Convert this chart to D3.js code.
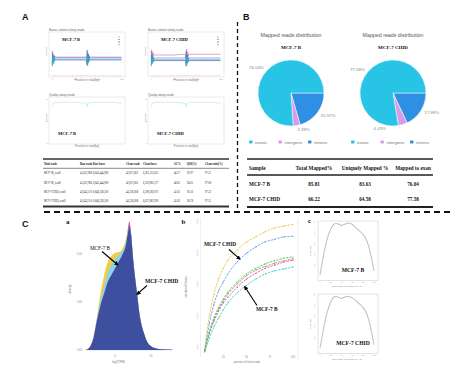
<!DOCTYPE html>
<html>
<head>
<meta charset="utf-8">
<script src="https://cdn.jsdelivr.net/npm/d3@7"></script>
<style>
  body { margin: 0; background: #fff; }
  svg { display: block; }
</style>
</head>
<body>
<svg id="fig" width="474" height="370"></svg>
<script>
// ---------- datos ----------
// A: contenido de bases a lo largo de las lecturas (read1 + read2)
const basePos = [1, 3, 5, 7, 9, 11, 14, 20, 50, 100, 140, 148, 151, 153, 155, 157, 159, 161, 164, 170, 200, 250, 298];
const baseA_B = [18, 34, 22, 31, 24, 29, 27, 27, 27, 27, 27, 27, 17, 35, 22, 31, 25, 28, 27, 27, 27, 27, 27];
const baseT_B = [36, 20, 30, 23, 28, 25, 26, 26, 26, 26, 26, 26, 37, 19, 31, 22, 28, 25, 26, 26, 26, 26, 26];
const baseG_B = [14, 30, 18, 28, 21, 25, 23, 23, 23, 23, 23, 23, 15, 31, 19, 27, 21, 24, 23, 23, 23, 23, 23];
const baseC_B = [32, 16, 30, 18, 27, 21, 24, 24, 24, 24, 24, 24, 33, 15, 28, 20, 26, 22, 24, 24, 24, 24, 24];
const baseA_C = [20, 37, 24, 34, 27, 32, 30, 30, 30, 30, 31, 31, 19, 38, 25, 34, 28, 32, 31, 31, 31, 31, 31];
const baseT_C = [36, 19, 30, 22, 27, 24, 24, 24, 24, 24, 24, 24, 36, 18, 30, 21, 27, 23, 24, 24, 24, 24, 24];
const baseG_C = [14, 29, 18, 27, 20, 24, 22, 22, 22, 22, 22, 22, 14, 30, 18, 26, 20, 23, 22, 22, 22, 22, 22];
const baseC_C = [31, 16, 29, 18, 26, 21, 26, 26, 26, 26, 26, 26, 32, 15, 27, 19, 25, 22, 26, 26, 26, 26, 26];
const qualPos = [1, 5, 20, 60, 100, 148, 151, 155, 170, 220, 260, 298];
const qualB = [33, 36, 37, 37, 37, 36, 33, 36, 37, 37, 37, 36];
const qualC = [33, 36, 37, 37, 37, 36, 33, 36, 37, 37, 37, 36];

// A: tabla de calidad
const qcHeader = ["Total reads", "Raw reads", "Raw bases", "Clean reads", "Clean bases", "GC%", "Q30(%)", "Clean ratio(%)"];
const qcRows = [
  ["MCF-7B_read1", "45,622,966", "6,843,444,900", "42,875,063", "6,361,125,631", "46.37", "95.97", "97.21"],
  ["MCF-7B_read2", "45,622,966", "6,843,444,900", "42,875,063", "6,359,085,377", "46.65", "94.05", "97.08"],
  ["MCF-7CHID_read1", "45,643,510", "6,846,526,500", "44,358,268", "6,598,583,071", "45.61", "95.56", "97.22"],
  ["MCF-7CHID_read2", "45,643,510", "6,846,526,500", "44,358,268", "6,637,863,930", "45.62", "94.78", "97.21"]
];

// B: distribución de lecturas mapeadas
const regions = ["intronic", "intergenic", "exonic"];
const legendOrder = ["exonic", "intergenic", "intronic"];
const pieB = [20.57, 3.39, 76.04];
const pieCHID = [17.99, 4.43, 77.58];
const mapHeader = ["Sample", "Total Mapped%", "Uniquely Mapped %", "Mapped to exon"];
const mapRows = [
  ["MCF-7 B", "85.81", "83.63", "76.04"],
  ["MCF-7 CHID", "66.22", "64.58", "77.58"]
];

// C-a: densidad de log2(TPM)
const densX = [-8, -7, -6, -5, -4, -3, -2, -1, 0, 1, 2, 3, 3.5, 4, 4.5, 5, 5.5, 6, 7, 8, 9, 10, 11, 12, 14, 16];
const densPink = [0, 0.003, 0.012, 0.031, 0.047, 0.059, 0.071, 0.078, 0.085, 0.092, 0.099, 0.110, 0.124, 0.134, 0.121, 0.097, 0.078, 0.063, 0.033, 0.018, 0.008, 0.004, 0.002, 0.001, 0.0005, 0];
const densYellow = [0, 0.003, 0.014, 0.035, 0.060, 0.078, 0.092, 0.098, 0.101, 0.102, 0.105, 0.115, 0.124, 0.128, 0.118, 0.095, 0.077, 0.062, 0.033, 0.017, 0.008, 0.004, 0.002, 0.001, 0.0005, 0];
const densCyan = [0, 0.003, 0.013, 0.033, 0.053, 0.067, 0.081, 0.089, 0.095, 0.099, 0.103, 0.112, 0.122, 0.129, 0.119, 0.096, 0.078, 0.063, 0.033, 0.018, 0.008, 0.004, 0.002, 0.001, 0.0005, 0];
const densBlue = [0, 0.003, 0.012, 0.031, 0.047, 0.059, 0.071, 0.078, 0.085, 0.092, 0.099, 0.109, 0.120, 0.129, 0.119, 0.096, 0.078, 0.0625, 0.033, 0.018, 0.008, 0.004, 0.002, 0.001, 0.0005, 0];

// C-b: saturación (número de genes vs % de lecturas)
const satX = [5, 10, 15, 20, 25, 30, 40, 50, 60, 70, 80, 90, 100];
const satYellow = [4700, 9900, 13400, 15800, 17500, 18800, 20400, 21700, 22500, 23300, 23900, 24200, 24500];
const satBlue = [4500, 8700, 11800, 13900, 15300, 16600, 18500, 19900, 20900, 21700, 22100, 22500, 22600];
const satGreen = [4400, 7400, 9600, 11300, 12600, 13700, 15300, 16600, 17500, 18200, 18700, 19100, 19300];
const satBrown = [4400, 7200, 9400, 11000, 12300, 13400, 15000, 16300, 17200, 17800, 18300, 18700, 19000];
const satPink = [4400, 7100, 9100, 10700, 12000, 12900, 14500, 15800, 16700, 17500, 18000, 18500, 18800];
const satTeal = [4200, 6400, 8200, 9600, 10900, 12000, 13600, 14800, 15800, 16600, 17100, 17400, 17700];
const satTicks = [5000, 10000, 15000, 20000, 25000];

// C-c: cobertura del cuerpo génico
const covX = [0, 5, 10, 15, 20, 25, 30, 35, 40, 45, 50, 55, 60, 65, 70, 75, 80, 85, 90, 95, 100];
const covB = [0.02, 0.30, 0.57, 0.75, 0.88, 0.96, 0.98, 0.96, 0.93, 0.95, 0.98, 0.98, 0.96, 0.91, 0.86, 0.82, 0.77, 0.70, 0.57, 0.36, 0.09];
const covCHID = [0.02, 0.29, 0.56, 0.75, 0.88, 0.97, 0.98, 0.95, 0.93, 0.96, 0.98, 0.97, 0.95, 0.91, 0.86, 0.82, 0.77, 0.70, 0.56, 0.35, 0.08];

// ---------- dibujo ----------
const svg = d3.select("#fig");
const serif = "'Liberation Serif','Times New Roman',serif";
const sans = "'Liberation Sans',Arial,sans-serif";

function txt(g, x, y, s, size, opts = {}) {
  return g.append("text")
    .attr("x", x).attr("y", y)
    .attr("font-family", opts.family || sans)
    .attr("font-size", size)
    .attr("font-weight", opts.bold ? "bold" : "normal")
    .attr("fill", opts.fill || "#111")
    .attr("text-anchor", opts.anchor || "start")
    .text(s);
}

// etiquetas de panel
txt(svg, 22, 20, "A", 9, { bold: true });
txt(svg, 243, 20, "B", 9, { bold: true });
txt(svg, 22, 227, "C", 9, { bold: true });

// separadores discontinuos
svg.append("line").attr("x1", 237.5).attr("x2", 237.5).attr("y1", 22).attr("y2", 208)
  .attr("stroke", "#111").attr("stroke-width", 1.3).attr("stroke-dasharray", "4,3");
svg.append("line").attr("x1", 44).attr("x2", 454).attr("y1", 212).attr("y2", 212)
  .attr("stroke", "#111").attr("stroke-width", 2).attr("stroke-dasharray", "6,4");

// ---- A: gráficos de contenido de bases y calidad ----
const baseColors = { A: "#e8609a", T: "#4a6fd6", G: "#1f3c88", C: "#35c3cf" };

function basesPlot(x0, label, series) {
  const g = svg.append("g");
  const xs = d3.scaleLinear().domain([0, 300]).range([x0 + 3, x0 + 73]);
  const ys = d3.scaleLinear().domain([0, 60]).range([76, 34]);
  txt(g, x0, 30.5, "Bases content along reads", 3, { fill: "#666" });
  g.append("rect").attr("x", x0).attr("y", 32).attr("width", 76).attr("height", 45)
    .attr("fill", "none").attr("stroke", "#ddd").attr("stroke-width", 0.6);
  const line = d3.line().x((d, i) => xs(basePos[i])).y(d => ys(d));
  Object.entries(series).forEach(([k, vals]) => {
    g.append("path").attr("d", line(vals)).attr("fill", "none")
      .attr("stroke", baseColors[k]).attr("stroke-width", 0.7).attr("opacity", 0.85);
  });
  // contenido N ~0
  g.append("path").attr("d", line(basePos.map(() => 0.5))).attr("fill", "none")
    .attr("stroke", "#f08ab8").attr("stroke-width", 0.5).attr("stroke-dasharray", "1.5,1");
  // mini leyenda
  Object.keys(baseColors).forEach((k, i) => {
    g.append("line").attr("x1", x0 + 69).attr("x2", x0 + 71).attr("y1", 37 + i * 2.5).attr("y2", 37 + i * 2.5)
      .attr("stroke", baseColors[k]).attr("stroke-width", 0.6);
  });
  txt(g, x0 - 2.5, 56, "Percent", 2.5, { fill: "#888" }).attr("transform", `rotate(-90,${x0 - 2.5},56)`);
  txt(g, x0 + 38, 81, "Position in read(bp)", 2.8, { fill: "#777", anchor: "middle" });
  xs.ticks(3).forEach(t => txt(g, xs(t), 79.5, t, 2.2, { fill: "#999", anchor: "middle" }));
  txt(g, x0 + 13, 41, label, 4.5, { family: serif, bold: true });
}

function qualPlot(x0, label, vals) {
  const g = svg.append("g");
  const xs = d3.scaleLinear().domain([0, 300]).range([x0 + 3, x0 + 73]);
  const ys = d3.scaleLinear().domain([0, 40]).range([143, 99]);
  txt(g, x0, 96, "Quality along reads", 3, { fill: "#666" });
  g.append("rect").attr("x", x0).attr("y", 97).attr("width", 76).attr("height", 47)
    .attr("fill", "none").attr("stroke", "#ddd").attr("stroke-width", 0.6);
  g.append("path").attr("d", d3.line().x((d, i) => xs(qualPos[i])).y(d => ys(d))(vals))
    .attr("fill", "none").attr("stroke", "#a9dccf").attr("stroke-width", 0.5);
  txt(g, x0 - 2.5, 121, "Quality", 2.5, { fill: "#888" }).attr("transform", `rotate(-90,${x0 - 2.5},121)`);
  ys.ticks(2).forEach(t => txt(g, x0 - 0.8, ys(t) + 1, t, 2.2, { fill: "#999", anchor: "end" }));
  txt(g, x0 + 38, 146.5, "Position in read(bp)", 2.8, { fill: "#777", anchor: "middle" });
  txt(g, x0 + 9, 135, label, 4.5, { family: serif, bold: true });
}

basesPlot(49, "MCF-7 B", { A: baseA_B, T: baseT_B, G: baseG_B, C: baseC_B });
basesPlot(148, "MCF-7 CHID", { A: baseA_C, T: baseT_C, G: baseG_C, C: baseC_C });
qualPlot(49, "MCF-7 B", qualB);
qualPlot(148, "MCF-7 CHID", qualC);

// tabla QC (comprimida en horizontal para que quepa como en la figura)
const qcCols = [44, 80, 93, 126, 143, 174, 187, 205];
const sx = 0.72;
const qc = svg.append("g").attr("transform", `translate(43,0) scale(${sx},1)`);
const qx = x => (x - 43) / sx;
qc.append("line").attr("x1", qx(43)).attr("x2", qx(229)).attr("y1", 159).attr("y2", 159).attr("stroke", "#333").attr("stroke-width", 1.6);
qc.append("line").attr("x1", qx(43)).attr("x2", qx(229)).attr("y1", 168.3).attr("y2", 168.3).attr("stroke", "#555").attr("stroke-width", 0.8);
qc.append("line").attr("x1", qx(43)).attr("x2", qx(229)).attr("y1", 206.5).attr("y2", 206.5).attr("stroke", "#333").attr("stroke-width", 2.2);
qcHeader.forEach((h, i) => txt(qc, qx(qcCols[i]), 165.5, h, 3.8, { family: serif, bold: true }));
qcRows.forEach((r, j) => r.forEach((c, i) =>
  txt(qc, qx(qcCols[i]), 174.5 + j * 9.1, c, 3.7, { family: serif, fill: "#222" })));

// ---- B: pasteles ----
const regionColor = d3.scaleOrdinal().domain(["exonic", "intergenic", "intronic"])
  .range(["#27c4e6", "#d79be8", "#2f8fe2"]);
const pieGen = d3.pie().sort(null).startAngle(Math.PI / 2).endAngle(Math.PI / 2 + 2 * Math.PI);
const arcGen = d3.arc().innerRadius(0).outerRadius(33);

function drawPie(cx, label, vals, smallShift) {
  const g = svg.append("g").attr("transform", `translate(${cx},93)`);
  txt(g, 0, -56, "Mapped reads distribution", 5.3, { fill: "#555", anchor: "middle" });
  txt(g, 0, -44, label, 5, { family: serif, bold: true, anchor: "middle" });
  const arcs = pieGen(vals);
  g.selectAll("path").data(arcs).enter().append("path")
    .attr("d", arcGen)
    .attr("fill", (d, i) => regionColor(regions[i]))
    .attr("stroke", "#fff").attr("stroke-width", 0.5);
  arcs.forEach((a, i) => {
    const m = (a.startAngle + a.endAngle) / 2;
    let x = 37 * Math.sin(m), y = -37 * Math.cos(m);
    let anchor = Math.sin(m) >= 0 ? "start" : "end";
    if (regions[i] === "intergenic" && smallShift) { x += smallShift; anchor = "end"; }
    txt(g, x, y + 1.6, vals[i].toFixed(2) + "%", 4.4, { fill: "#888", anchor });
  });
  // leyenda
  legendOrder.forEach((r, i) => {
    const lx = -42 + i * 29.5;
    g.append("rect").attr("x", lx).attr("y", 47.5).attr("width", 3.5).attr("height", 3)
      .attr("rx", 0.8).attr("fill", regionColor(r));
    txt(g, lx + 6, 50.8, r, 4.2, { fill: "#777" });
  });
}
drawPie(291, "MCF-7 B", pieB, 0);
drawPie(393, "MCF-7 CHID", pieCHID, -18);

// tabla de mapeo
const mapCols = [249, 314, 365, 413];
svg.append("line").attr("x1", 247).attr("x2", 433).attr("y1", 159).attr("y2", 159).attr("stroke", "#222").attr("stroke-width", 1.6);
svg.append("line").attr("x1", 247).attr("x2", 433).attr("y1", 175).attr("y2", 175).attr("stroke", "#222").attr("stroke-width", 1.4);
svg.append("line").attr("x1", 247).attr("x2", 433).attr("y1", 207).attr("y2", 207).attr("stroke", "#222").attr("stroke-width", 2.2);
mapHeader.forEach((h, i) => txt(svg, mapCols[i], 170, h, 5.2, { family: serif, bold: true, anchor: i === 0 ? "start" : "middle" }));
mapRows.forEach((r, j) => r.forEach((c, i) =>
  txt(svg, mapCols[i], 186 + j * 15, c, 5.2, { family: serif, bold: true, anchor: i === 0 ? "start" : "middle" })));

// ---- C-a: densidad ----
function arrow(g, x1, y1, x2, y2) {
  g.append("line").attr("x1", x1).attr("y1", y1).attr("x2", x2).attr("y2", y2)
    .attr("stroke", "#000").attr("stroke-width", 1.1).attr("marker-end", "url(#ah)");
}
svg.append("defs").append("marker").attr("id", "ah").attr("viewBox", "0 0 10 10")
  .attr("refX", 8).attr("refY", 5).attr("markerWidth", 4).attr("markerHeight", 4).attr("orient", "auto")
  .append("path").attr("d", "M0,0L10,5L0,10z").attr("fill", "#000");

{
  const g = svg.append("g");
  const xs = d3.scaleLinear().domain([-8, 16]).range([86.2, 172.6]);
  const ys = d3.scaleLinear().domain([0, 0.1]).range([350, 254]);
  txt(g, 66, 224, "a", 7, { family: serif, bold: true });
  const area = d3.area().x((d, i) => xs(densX[i])).y0(ys(0)).y1(d => ys(d)).curve(d3.curveMonotoneX);
  // cola clara en la base
  g.append("rect").attr("x", xs(-8)).attr("y", 349).attr("width", xs(16) - xs(-8)).attr("height", 1.2).attr("fill", "#9fb3dc");
  [[densPink, "#e2549a"], [densYellow, "#f2cd45"], [densCyan, "#93d1e6"], [densBlue, "#3d4f9e"]].forEach(([v, c]) => {
    g.append("path").attr("d", area(v)).attr("fill", c);
  });
  [0, 0.05, 0.1].forEach(t => txt(g, 82, ys(t) + 1, t.toFixed(2), 2.6, { fill: "#888", anchor: "end" }));
  [0, 10].forEach(t => txt(g, xs(t), 357, t, 2.6, { fill: "#888", anchor: "middle" }));
  txt(g, xs(1), 362.5, "log2(TPM)", 2.8, { fill: "#777", anchor: "middle" });
  txt(g, 71, 289, "density", 2.8, { fill: "#777", anchor: "middle" }).attr("transform", "rotate(-90,71,289)");
  txt(g, 90, 250, "MCF-7 B", 5.2, { family: serif });
  arrow(g, 102, 251.5, xs(0.8), ys(0.0885));
  txt(g, 145, 283, "MCF-7 CHID", 5.6, { family: serif, bold: true });
  arrow(g, 147, 285.5, xs(6.1), ys(0.058));
}

// ---- C-b: saturación ----
{
  const g = svg.append("g");
  const xs = d3.scaleLinear().domain([0, 100]).range([200, 293]);
  const ys = d3.scaleLinear().domain([3400, 25500]).range([357, 218]);
  txt(g, 181.5, 224, "b", 7, { family: serif, bold: true });
  g.append("line").attr("x1", 200.5).attr("x2", 200.5).attr("y1", 218).attr("y2", 357).attr("stroke", "#e6e6e6").attr("stroke-width", 0.6);
  g.append("line").attr("x1", 298).attr("x2", 298).attr("y1", 218).attr("y2", 360).attr("stroke", "#e6e6e6").attr("stroke-width", 0.8);
  const line = d3.line().x((d, i) => xs(satX[i])).y(d => ys(d)).curve(d3.curveMonotoneX);
  [[satTeal, "#2fd2b2"], [satPink, "#e445c8"], [satBrown, "#b38a6a"], [satGreen, "#3fc84a"], [satBlue, "#5c9ce8"], [satYellow, "#e6c53c"]]
    .forEach(([v, c]) => {
      g.append("path").attr("d", line(v)).attr("fill", "none").attr("stroke", c)
        .attr("stroke-width", 0.9).attr("stroke-dasharray", "2.2,1.2");
      g.selectAll(null).data(v).enter().append("circle")
        .attr("cx", (d, i) => xs(satX[i])).attr("cy", d => ys(d)).attr("r", 0.6).attr("fill", c);
    });
  satTicks.forEach(t => {
    const y = ys(t);
    txt(g, 198.5, y, t, 2.4, { fill: "#999", anchor: "middle" }).attr("transform", `rotate(-90,198.5,${y})`);
  });
  [25, 50, 75, 100].forEach(t => txt(g, xs(t), 358, t, 2.6, { fill: "#888", anchor: "middle" }));
  txt(g, 247, 362.5, "percent of total reads", 2.8, { fill: "#777", anchor: "middle" });
  txt(g, 187, 287, "number of Genes", 2.8, { fill: "#777", anchor: "middle" }).attr("transform", "rotate(-90,187,287)");
  txt(g, 204, 246, "MCF-7 CHID", 5.4, { family: serif, bold: true });
  arrow(g, 229, 249.5, xs(43), ys(18950));
  txt(g, 256, 311, "MCF-7 B", 5.4, { family: serif, bold: true });
  arrow(g, 257, 305.5, xs(48), ys(14600));
}

// ---- C-c: cobertura ----
function coverPlot(y0, label, vals) {
  const g = svg.append("g");
  const xs = d3.scaleLinear().domain([0, 100]).range([320, 374]);
  const ys = d3.scaleLinear().domain([0, 1]).range([y0 + 55, y0 + 1]);
  g.append("rect").attr("x", 318).attr("y", y0).attr("width", 60).attr("height", 59.5)
    .attr("fill", "none").attr("stroke", "#d6d6d6").attr("stroke-width", 0.7);
  g.append("path").attr("d", d3.line().x((d, i) => xs(covX[i])).y(d => ys(d)).curve(d3.curveBasis)(vals))
    .attr("fill", "none").attr("stroke", "#c4c4c4").attr("stroke-width", 1.1);
  [0.2, 0.4, 0.6, 0.8, 1.0].forEach(t => {
    const y = ys(t);
    txt(g, 315, y, t.toFixed(1), 2.3, { fill: "#999", anchor: "middle" }).attr("transform", `rotate(-90,315,${y})`);
  });
  [0, 20, 40, 60, 80, 100].forEach(t => txt(g, xs(t), y0 + 62, t, 2.2, { fill: "#999", anchor: "middle" }));
  txt(g, 347, y0 + 65.5, "Gene body percentile (5'->3')", 2.4, { fill: "#888", anchor: "middle" });
  txt(g, 310.5, y0 + 30, "Coverage", 2.4, { fill: "#888", anchor: "middle" }).attr("transform", `rotate(-90,310.5,${y0 + 30})`);
  txt(g, 353, y0 + 51, label, 5.6, { family: serif, bold: true, anchor: "middle" });
}
txt(svg, 308, 223, "c", 7, { family: serif, bold: true });
coverPlot(221, "MCF-7 B", covB);
coverPlot(294, "MCF-7 CHID", covCHID);
</script>
</body>
</html>
